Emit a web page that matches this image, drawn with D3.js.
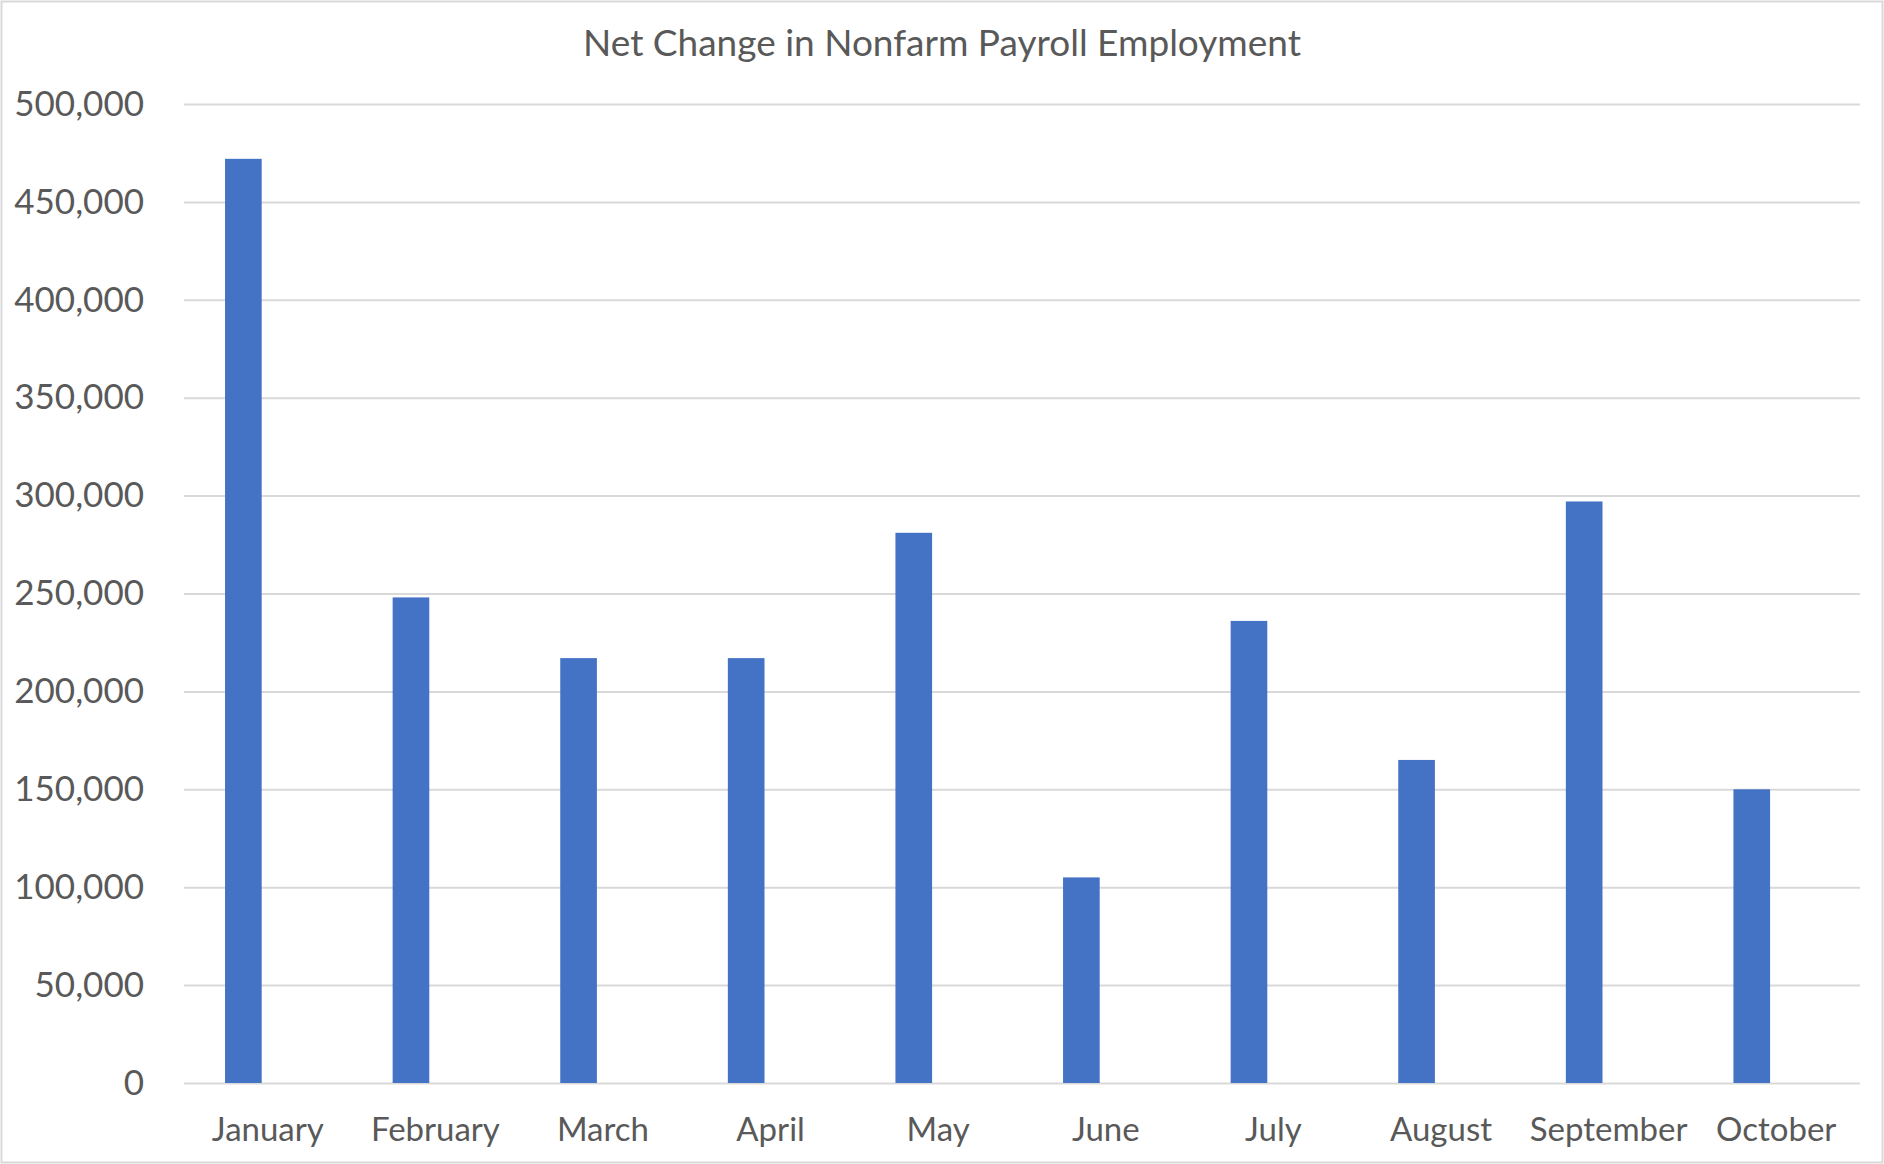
<!DOCTYPE html>
<html lang="en">
<head>
    <meta charset="UTF-8">
    <title>Net Change in Nonfarm Payroll Employment</title>
    <script src="https://d3js.org/d3.v7.min.js"></script>
    <style>
        html, body { margin: 0; padding: 0; background: #fff; }
        svg text { font-family: Lato, "Open Sans", sans-serif; fill: #595959; }
    </style>
</head>
<body>
    <div id="chart"></div>

    <script>

        // Data
        var months = ["January", "February", "March", "April", "May", "June",
                      "July", "August", "September", "October"];
        var payrolls = [472000, 248000, 217000, 217000, 281000, 105000,
                        236000, 165000, 297000, 150000];
        var yTicks = [0, 50000, 100000, 150000, 200000, 250000,
                      300000, 350000, 400000, 450000, 500000];
        var series = ["Net change", ""];

        // Dimensions
        var width = 1884;
        var height = 1164;
        var margin = { top: 104, right: 24, bottom: 81, left: 184 };
        var plotW = width - margin.left - margin.right;
        var plotH = height - margin.top - margin.bottom;

        var svg = d3.select("#chart")
            .append("svg")
            .attr("width", width)
            .attr("height", height);

        // chart border
        svg.append("rect")
            .attr("x", 1.5).attr("y", 1.5)
            .attr("width", width - 3).attr("height", height - 3)
            .attr("fill", "#fff")
            .attr("stroke", "#d9d9d9")
            .attr("stroke-width", 2);

        // title
        svg.append("text")
            .attr("x", width / 2)
            .attr("y", 56)
            .attr("text-anchor", "middle")
            .style("font-size", "37px")
            .text("Net Change in Nonfarm Payroll Employment");

        var g = svg.append("g")
            .attr("transform", "translate(" + margin.left + "," + margin.top + ")");

        // Scales
        var x = d3.scaleBand()
            .domain(months)
            .range([0, plotW]);

        var x1 = d3.scaleBand()
            .domain(series)
            .range([0, x.bandwidth()])
            .paddingInner(0.25)
            .paddingOuter(0.84);

        var y = d3.scaleLinear()
            .domain([0, 500000])
            .range([plotH, 0]);

        // y axis + gridlines
        var yAxis = g.append("g")
            .call(d3.axisLeft(y)
                .tickValues(yTicks)
                .tickSize(-plotW)
                .tickPadding(40)
                .tickFormat(d3.format(",")));

        yAxis.select(".domain").remove();
        yAxis.selectAll(".tick line")
            .attr("stroke", "#d9d9d9")
            .attr("stroke-width", 2);
        yAxis.selectAll(".tick text")
            .style("font-size", "35px");

        // x axis labels
        var xAxis = g.append("g")
            .attr("transform", "translate(0," + plotH + ")")
            .call(d3.axisBottom(x).tickSize(0).tickPadding(35));

        xAxis.select(".domain").remove();
        xAxis.selectAll(".tick text")
            .style("font-size", "33px");

        // bars
        g.append("g")
            .selectAll("rect")
            .data(payrolls)
            .enter()
            .append("rect")
            .attr("x", function (d, i) { return x(months[i]) + x1(series[0]); })
            .attr("width", x1.bandwidth())
            .attr("y", function (d) { return y(d); })
            .attr("height", function (d) { return plotH - y(d); })
            .attr("fill", "#4472c4");

    </script>
</body>
</html>
